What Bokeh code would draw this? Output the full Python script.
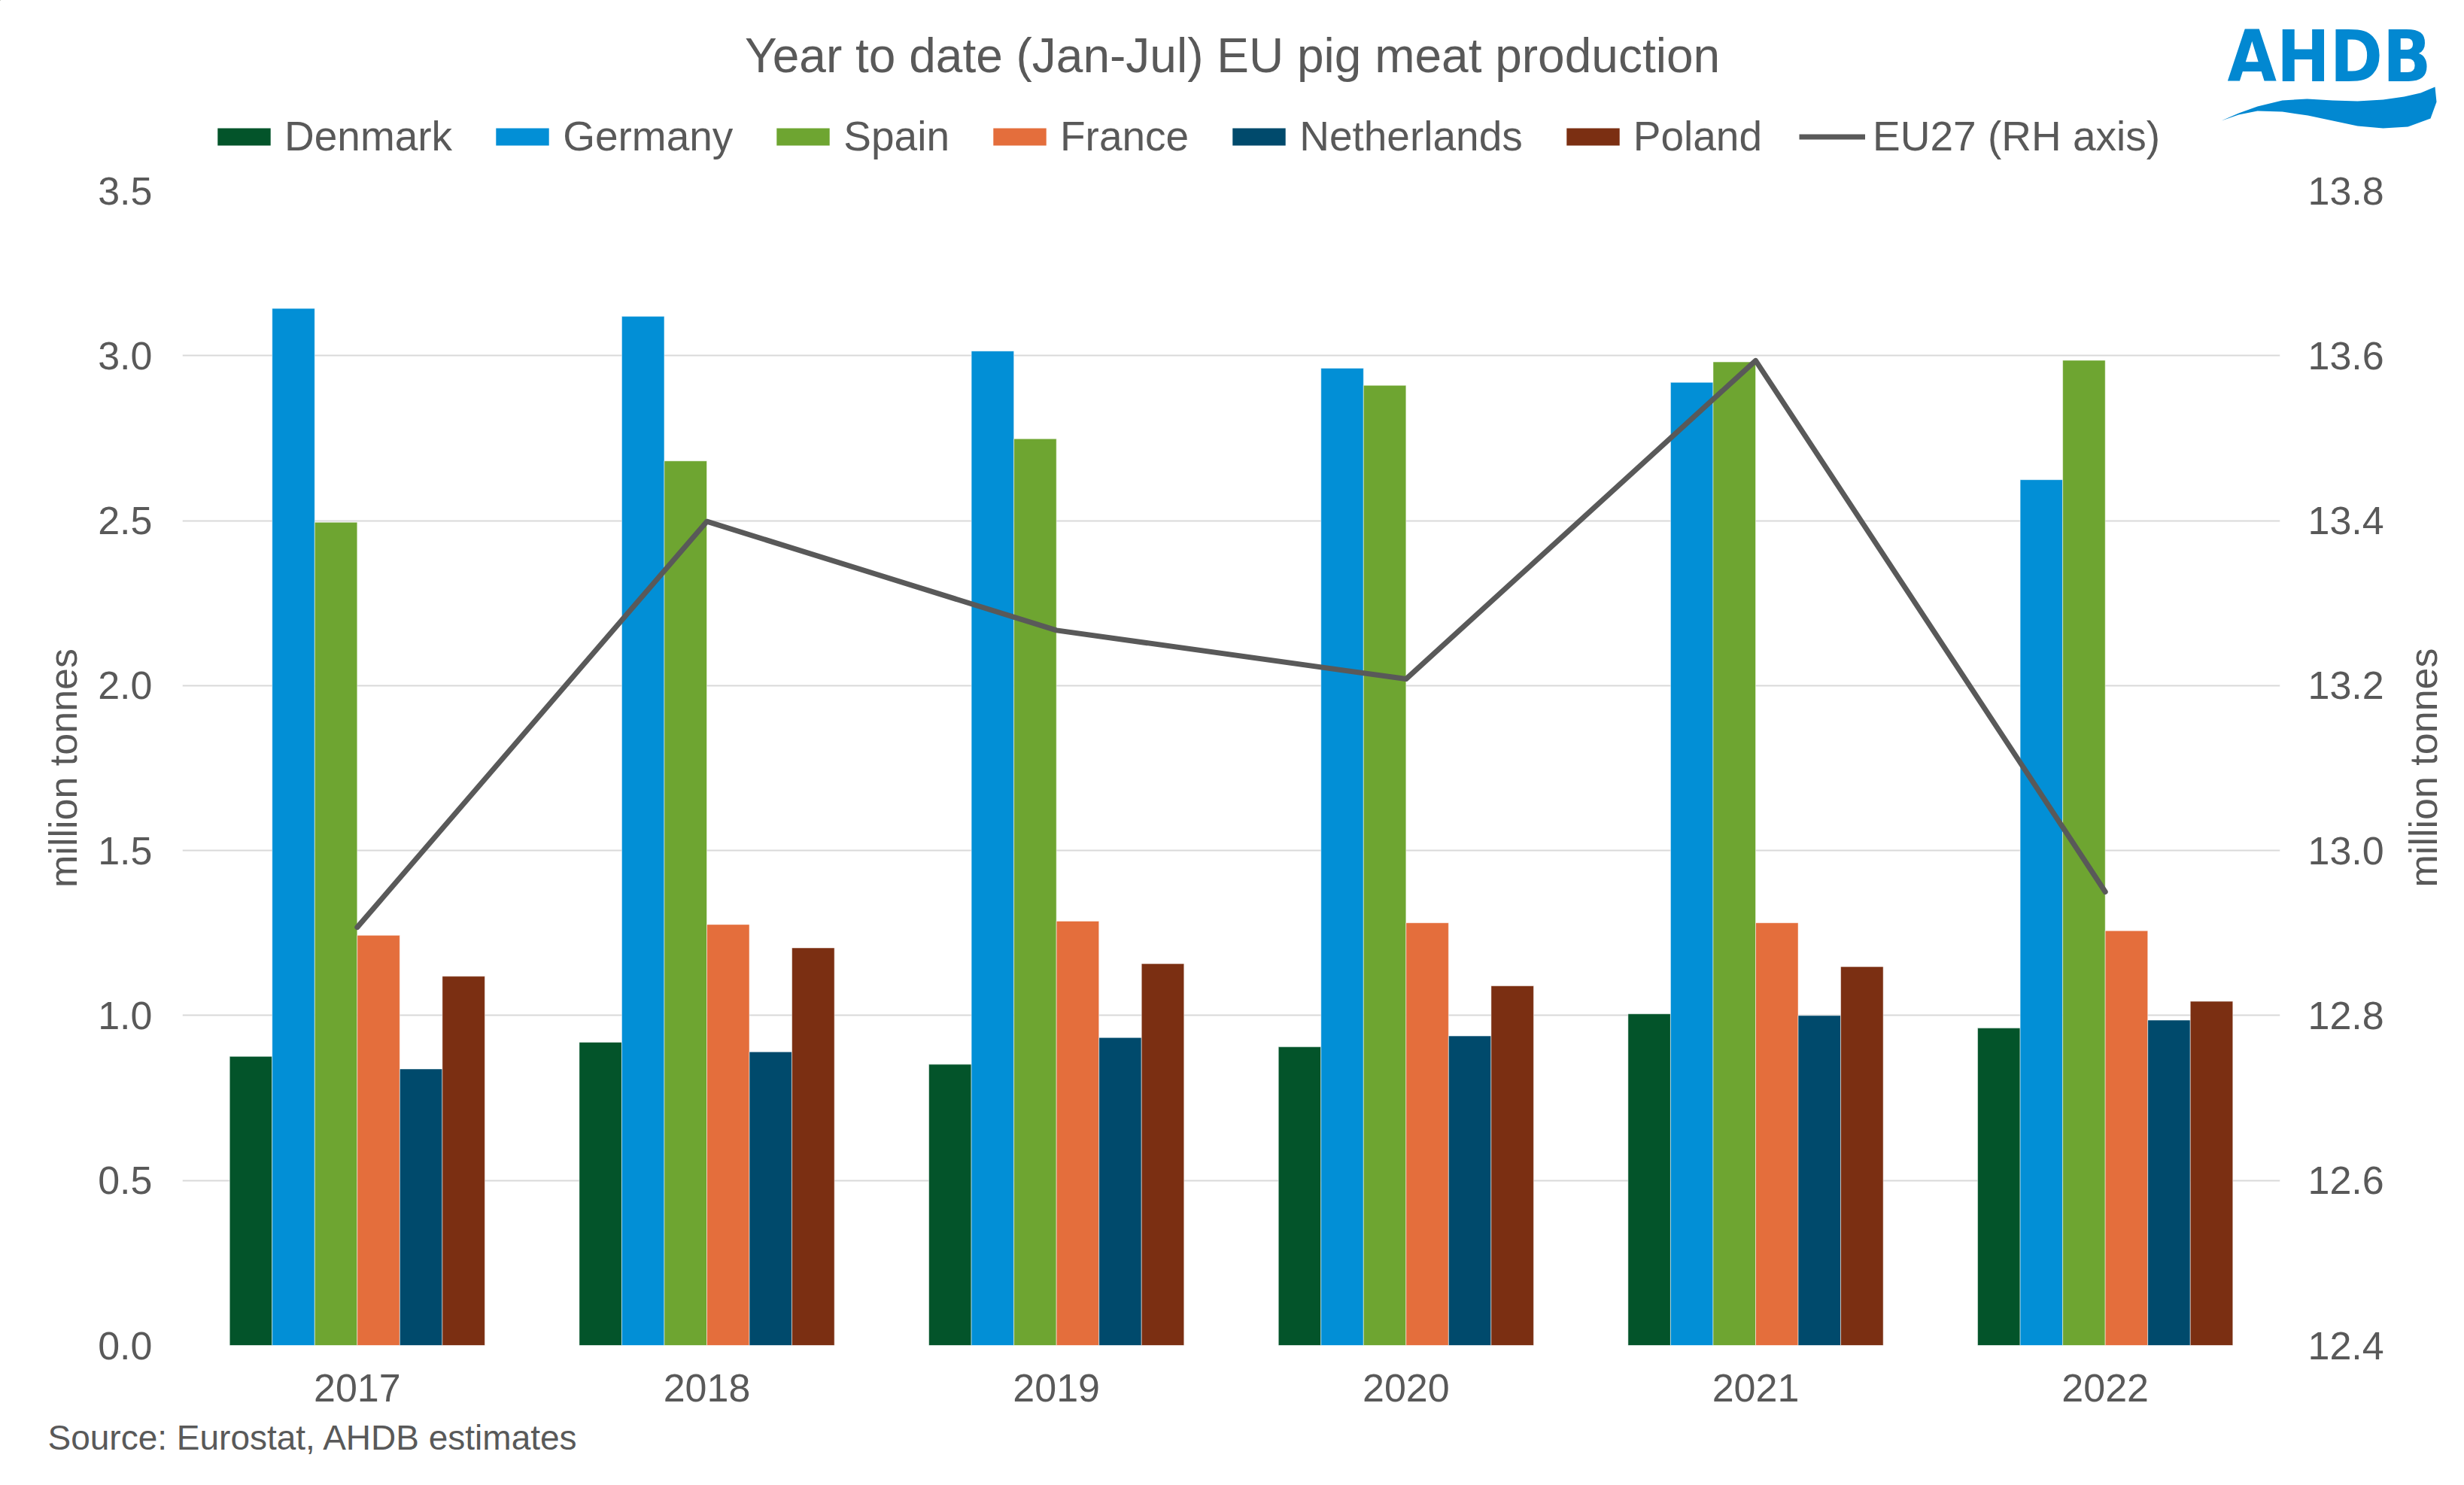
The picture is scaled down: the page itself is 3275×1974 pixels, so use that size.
import math
from bokeh.plotting import figure
from bokeh.layouts import column, row
from bokeh.models import (FactorRange, Range1d, LinearAxis, Legend, LegendItem, Title,
                          FixedTicker, NumeralTickFormatter, ColumnDataSource)
from bokeh.core.properties import value
from bokeh.transform import dodge
from bokeh.embed import file_html
from bokeh.resources import INLINE

years = ["2017", "2018", "2019", "2020", "2021", "2022"]
denmark = [0.876, 0.919, 0.852, 0.905, 1.005, 0.962]
germany = [3.143, 3.119, 3.014, 2.962, 2.919, 2.624]
spain = [2.495, 2.681, 2.748, 2.910, 2.981, 2.986]
france = [1.243, 1.276, 1.286, 1.281, 1.281, 1.257]
netherlands = [0.838, 0.890, 0.933, 0.938, 1.000, 0.986]
poland = [1.119, 1.205, 1.157, 1.090, 1.148, 1.043]
eu27 = [12.907, 13.399, 13.267, 13.208, 13.594, 12.950]

series_names = ["Denmark", "Germany", "Spain", "France", "Netherlands", "Poland"]
series_values = [denmark, germany, spain, france, netherlands, poland]
colors = ["#03542A", "#028FD6", "#6EA531", "#E46E3C", "#004A6C", "#7B2F12"]
line_label = "EU27 (RH axis)"

left_ticks = [0.0, 0.5, 1.0, 1.5, 2.0, 2.5, 3.0, 3.5]
right_ticks = [12.4, 12.6, 12.8, 13.0, 13.2, 13.4, 13.6, 13.8]

title_text = "Year to date (Jan-Jul) EU pig meat production"
source_text = "Source: Eurostat, AHDB estimates"
axis_text = "million tonnes"

FONT = "Liberation Sans"
GREY = "#595959"
LOGO_BLUE = "#0288D1"

W, H = 3275, 1974
HEAD_H = 213
RLAB_W = 100


def no_align(fig):
    try:
        fig.frame_align = False
    except Exception:
        pass


# ---------------- header: title, legend, logo ----------------
head = figure(width=W, height=HEAD_H, x_range=Range1d(0, W), y_range=Range1d(HEAD_H, 0),
              output_backend="svg", toolbar_location=None, x_axis_type=None, y_axis_type=None,
              min_border=0, outline_line_color=None)
no_align(head)
head.grid.visible = False
head.background_fill_color = "white"
head.border_fill_color = "white"

head.text(x=[W / 2], y=[73], text=[title_text], text_align="center", text_baseline="middle",
          text_font=value(FONT), text_font_size="64px", text_color=GREY)

# legend proxies (kept outside the visible area of the header)
items = []
for name, col in zip(series_names, colors):
    r = head.vbar(x=[-1000], top=[-900], bottom=[-800], width=1, fill_color=col, line_color=None)
    items.append(LegendItem(label=name, renderers=[r]))
lr_dummy = head.line(x=[-1000, -900], y=[-900, -900], line_color=GREY, line_width=7)
items.append(LegendItem(label=line_label, renderers=[lr_dummy]))

legend = Legend(items=items, orientation="horizontal", location=(280, 0), padding=0,
                margin=0, spacing=49, label_standoff=10, glyph_width=88, glyph_height=29,
                border_line_color=None, background_fill_alpha=0,
                label_text_font=FONT, label_text_font_size="55px", label_text_color=GREY)
head.add_layout(legend)

# AHDB logo
head.text(x=[2960], y=[75], text=["AHDB"], text_align="left", text_baseline="middle",
          text_font=value("DejaVu Sans Condensed"),
          text_font_size="94px", text_font_style="bold", text_color=LOGO_BLUE)
head.patch(x=[2952, 2975, 3000, 3033, 3066, 3100, 3133, 3167, 3195, 3217, 3236, 3238, 3230,
              3200, 3167, 3133, 3100, 3067, 3033, 3000, 2975],
           y=[160, 150, 141, 133, 131, 133, 134, 132, 128, 123, 115, 135, 157,
              168, 170, 167, 160, 153, 148, 147, 152],
           fill_color=LOGO_BLUE, line_color=None)

# ---------------- main chart ----------------
src = ColumnDataSource(dict(year=years, eu27=eu27,
                            **{n: v for n, v in zip(series_names, series_values)}))

MAIN_H = H - HEAD_H
p = figure(width=W - RLAB_W, height=MAIN_H, x_range=FactorRange(factors=years, range_padding=0),
           y_range=Range1d(0, 3.5), output_backend="svg", toolbar_location=None,
           min_border_left=242, min_border_right=245 - RLAB_W, min_border_top=40,
           min_border_bottom=186)
no_align(p)
p.outline_line_color = None
p.background_fill_color = "white"
p.border_fill_color = "white"

group_w = 0.73
bw = group_w / 6
for i, (name, col) in enumerate(zip(series_names, colors)):
    p.vbar(x=dodge("year", (i - 2.5) * bw, range=p.x_range), top=name, width=bw,
           source=src, fill_color=col, line_color="white", line_width=1, line_alpha=0.5)

p.extra_y_ranges = {"eu": Range1d(12.4, 13.8)}
p.line(x="year", y="eu27", source=src, y_range_name="eu", line_color=GREY, line_width=7,
       line_join="round", line_cap="round")

ya = p.yaxis[0]
ya.ticker = FixedTicker(ticks=left_ticks)
ya.formatter = NumeralTickFormatter(format="0.0")
ya.axis_label = axis_text

ra = LinearAxis(y_range_name="eu", ticker=FixedTicker(ticks=right_ticks),
                formatter=NumeralTickFormatter(format="0.0"))
p.add_layout(ra, "right")

for ax in [ya, ra]:
    ax.axis_line_color = None
    ax.major_tick_line_color = None
    ax.minor_tick_line_color = None
    ax.major_tick_out = 0
    ax.major_label_text_font = FONT
    ax.major_label_text_font_size = "52px"
    ax.major_label_text_color = GREY
    ax.axis_label_text_font = FONT
    ax.axis_label_text_font_size = "52px"
    ax.axis_label_text_color = GREY
    ax.axis_label_text_font_style = "normal"
ya.major_label_standoff = 40
ya.axis_label_standoff = 14
ra.major_label_standoff = 37

xa = p.xaxis[0]
xa.axis_line_color = None
xa.major_tick_line_color = None
xa.major_tick_out = 0
xa.major_label_text_font = FONT
xa.major_label_text_font_size = "52px"
xa.major_label_text_color = GREY
xa.major_label_standoff = 38

p.xgrid.grid_line_color = None
p.ygrid.grid_line_color = "#D9D9D9"
p.ygrid.grid_line_width = 2

src_title = Title(text=source_text, align="left", offset=-179,
                  text_font=FONT, text_font_size="46px", text_font_style="normal",
                  text_color=GREY, standoff=35)
p.add_layout(src_title, "below")

# ---------------- right-hand axis title (reads upwards) ----------------
rlab = figure(width=RLAB_W, height=MAIN_H, x_range=Range1d(W - RLAB_W, W),
              y_range=Range1d(H, HEAD_H), output_backend="svg", toolbar_location=None,
              x_axis_type=None, y_axis_type=None, min_border=0, outline_line_color=None)
no_align(rlab)
rlab.grid.visible = False
rlab.background_fill_color = "white"
rlab.border_fill_color = "white"
rlab.text(x=[3220], y=[1020], text=[axis_text], angle=math.pi / 2, text_align="center",
          text_baseline="middle", text_font=value(FONT), text_font_size="52px",
          text_color=GREY)

layout = column(head, row(p, rlab, spacing=0), spacing=0)
open("out.html", "w").write(file_html(layout, INLINE))
